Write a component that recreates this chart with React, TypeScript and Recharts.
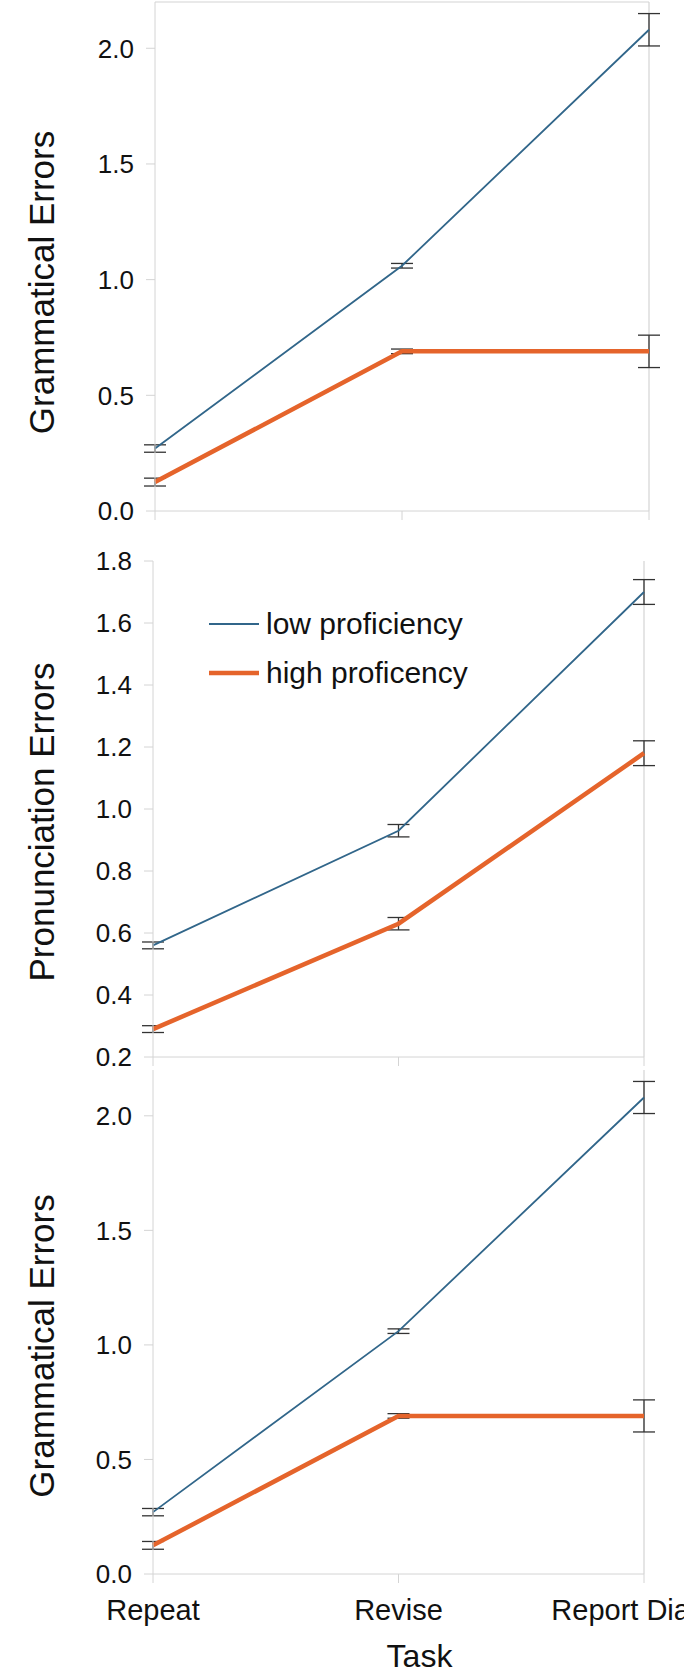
import React from 'react';
import { LineChart, Line, XAxis, YAxis, ErrorBar, ReferenceLine, Legend } from 'recharts';

const tasks = ['Repeat', 'Revise', 'Report Diaries'];
const seriesNames = ['low proficiency', 'high proficency'];

// grammatical errors (top and bottom panels)
const grammarLow = [0.27, 1.06, 2.08];
const grammarLowErr = [0.016, 0.01, 0.07];
const grammarHigh = [0.125, 0.69, 0.69];
const grammarHighErr = [0.017, 0.01, 0.07];

// pronunciation errors (middle panel)
const pronLow = [0.56, 0.93, 1.7];
const pronLowErr = [0.011, 0.02, 0.04];
const pronHigh = [0.29, 0.63, 1.18];
const pronHighErr = [0.011, 0.02, 0.04];

const grammarTicks = [0, 0.5, 1.0, 1.5, 2.0];
const pronTicks = [0.2, 0.4, 0.6, 0.8, 1.0, 1.2, 1.4, 1.6, 1.8];

const BLUE = '#31668a';
const ORANGE = '#e5642b';
const GRID = '#d4d4d4';
const ERR = '#333';
const FONT = '"Liberation Sans", Arial, sans-serif';

const makeRows = (low: number[], lowErr: number[], high: number[], highErr: number[]) =>
  tasks.map((task, i) => ({ task, low: low[i], lowErr: lowErr[i], high: high[i], highErr: highErr[i] }));

const grammarRows = makeRows(grammarLow, grammarLowErr, grammarHigh, grammarHighErr);
const pronRows = makeRows(pronLow, pronLowErr, pronHigh, pronHighErr);

const YTitle = ({ viewBox, caption, shift }: any) => {
  const cx = viewBox.x + 41;
  const cy = viewBox.y + viewBox.height / 2 + shift;
  return (
    <text
      x={cx}
      y={cy}
      transform={`rotate(-90 ${cx} ${cy})`}
      textAnchor="middle"
      dominantBaseline="central"
      fontSize={35}
      fontFamily={FONT}
      fill="#111"
    >
      {caption}
    </text>
  );
};

const XTitle = ({ viewBox, caption }: any) => {
  const cx = viewBox.x + viewBox.width / 2 + 21;
  const cy = viewBox.y + 82;
  return (
    <text x={cx} y={cy} textAnchor="middle" dominantBaseline="central" fontSize={32} fontFamily={FONT} fill="#111">
      {caption}
    </text>
  );
};

const renderLegend = (props: any) => {
  const items = [...props.payload].sort(
    (a: any, b: any) => seriesNames.indexOf(a.value) - seriesNames.indexOf(b.value)
  );
  return (
    <div style={{ fontFamily: FONT, fontSize: 30, color: '#111' }}>
      {items.map((entry: any) => (
        <div key={entry.value} style={{ display: 'flex', alignItems: 'center', height: 49 }}>
          <svg width={50} height={10} style={{ marginRight: 7 }}>
            <line x1={0} x2={50} y1={5} y2={5} stroke={entry.color} strokeWidth={entry.dataKey === 'high' ? 4.5 : 2} />
          </svg>
          <span>{entry.value}</span>
        </div>
      ))}
    </div>
  );
};

interface PanelProps {
  data: any[];
  ticks: number[];
  domain: [number, number];
  title: string;
  titleShift: number;
  top: number;
  height: number;
  margin: { top: number; right: number; left: number; bottom: number };
  yWidth: number;
  xHeight: number;
  bottomPanel?: boolean;
  legend?: boolean;
  topLine?: boolean;
}

const Panel = (p: PanelProps) => (
  <div style={{ position: 'absolute', left: 0, top: p.top }}>
    <LineChart width={684} height={p.height} data={p.data} margin={p.margin}>
      <YAxis
        type="number"
        domain={p.domain}
        ticks={p.ticks}
        interval={0}
        tickFormatter={(v: number) => v.toFixed(1)}
        width={p.yWidth}
        stroke={GRID}
        tickSize={9}
        tickMargin={12}
        tick={{ fill: '#111', fontSize: 26, fontFamily: FONT }}
        allowDataOverflow
        label={<YTitle caption={p.title} shift={p.titleShift} />}
      />
      <XAxis
        dataKey="task"
        interval={0}
        height={p.xHeight}
        stroke={GRID}
        tickSize={9}
        tickMargin={16}
        tick={{ fill: '#111', fontSize: 29, fontFamily: FONT }}
        tickFormatter={(v: string) => (p.bottomPanel ? v : '')}
        label={p.bottomPanel ? <XTitle caption="Task" /> : undefined}
      />
      <ReferenceLine x={tasks[tasks.length - 1]} stroke={GRID} strokeWidth={1.2} />
      {p.topLine && <ReferenceLine y={p.domain[1]} stroke={GRID} strokeWidth={1.2} />}
      {p.legend && (
        <Legend
          layout="vertical"
          align="center"
          verticalAlign="middle"
          content={renderLegend}
          wrapperStyle={{ left: 209, top: 59, width: 'auto' }}
        />
      )}
      <Line
        type="linear"
        dataKey="low"
        name={seriesNames[0]}
        stroke={BLUE}
        strokeWidth={1.8}
        dot={false}
        activeDot={false}
        isAnimationActive={false}
      >
        <ErrorBar dataKey="lowErr" width={11} stroke={ERR} strokeWidth={1.3} direction="y" isAnimationActive={false} />
      </Line>
      <Line
        type="linear"
        dataKey="high"
        name={seriesNames[1]}
        stroke={ORANGE}
        strokeWidth={4.5}
        dot={false}
        activeDot={false}
        isAnimationActive={false}
      >
        <ErrorBar dataKey="highErr" width={11} stroke={ERR} strokeWidth={1.3} direction="y" isAnimationActive={false} />
      </Line>
    </LineChart>
  </div>
);

export default function App() {
  return (
    <div style={{ position: 'absolute', left: 0, top: 0, width: 684, height: 1678, background: '#fff' }}>
      <Panel
        data={grammarRows}
        ticks={grammarTicks}
        domain={[0, 2.2]}
        title="Grammatical Errors"
        titleShift={26}
        top={0}
        height={540}
        margin={{ top: 2, right: 35, left: 0, bottom: 0 }}
        yWidth={155}
        xHeight={29}
        topLine
      />
      <Panel
        data={pronRows}
        ticks={pronTicks}
        domain={[0.2, 1.8]}
        title="Pronunciation Errors"
        titleShift={13}
        top={540}
        height={546}
        margin={{ top: 21, right: 40, left: 0, bottom: 0 }}
        yWidth={153}
        xHeight={29}
        legend
      />
      <Panel
        data={grammarRows}
        ticks={grammarTicks}
        domain={[0, 2.2]}
        title="Grammatical Errors"
        titleShift={24}
        top={1068}
        height={610}
        margin={{ top: 2, right: 40, left: 0, bottom: 0 }}
        yWidth={153}
        xHeight={104}
        bottomPanel
      />
    </div>
  );
}
